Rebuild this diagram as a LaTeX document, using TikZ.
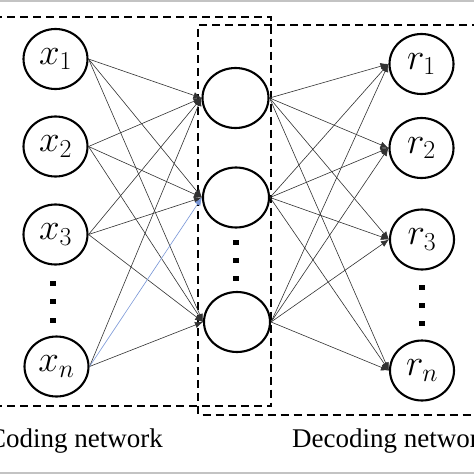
\RequirePackage{fix-cm}
\documentclass[tikz,border=0pt]{standalone}
\usepackage{fontspec}
\setmainfont{Liberation Serif}
\usetikzlibrary{shapes.geometric,arrows.meta}
\definecolor{edgegray}{RGB}{50,50,50}
\definecolor{edgeblue}{RGB}{120,150,215}
\definecolor{stripgray}{RGB}{195,195,195}
\tikzset{
  neuron/.style={ellipse, draw=black, line width=2.1pt, minimum width=64pt, minimum height=60pt, inner sep=0pt, fill=white},
  conn/.style={draw=edgegray, line width=0.6pt, -{Latex[length=8pt,width=6.5pt]}},
  boxline/.style={draw=black, line width=2pt, dash pattern=on 8pt off 5pt},
  dotsq/.style={fill=black, minimum width=5.5pt, minimum height=5pt, inner sep=0pt},
  lbl/.style={font=\fontsize{27}{30}\selectfont, inner sep=0pt},
  mathlbl/.style={font=\fontsize{37}{40}\selectfont}
}
\begin{document}
\begin{tikzpicture}[x=1pt,y=-1pt]
\useasboundingbox (0,0) rectangle (474,474);
\fill[white] (0,0) rectangle (474,474);
\fill[stripgray] (0,0) rectangle (474,2.2);
\fill[stripgray] (0,471.5) rectangle (474,474);
% dashed boxes
\draw[boxline] (-6,16.5) -- (271,16.5) -- (271,406) -- (-6,406);
\draw[boxline] (480,25) -- (198,25) -- (198,414.5) -- (480,414.5);
% input nodes
\node[neuron, mathlbl] (x1) at (55.5,59) {$x_1$};
\node[neuron, mathlbl] (x2) at (55.5,146.5) {$x_2$};
\node[neuron, mathlbl] (x3) at (55.5,234.5) {$x_3$};
\node[neuron, mathlbl] (xn) at (56.5,366.5) {$x_n$};
% hidden nodes
\node[neuron, minimum width=66pt] (h1) at (235.5,98) {};
\node[neuron, minimum width=66pt] (h2) at (236,197.5) {};
\node[neuron, minimum width=66pt] (h3) at (237,322) {};
% output nodes
\node[neuron, mathlbl] (r1) at (421.5,64) {$r_1$};
\node[neuron, mathlbl] (r2) at (421.5,148) {$r_2$};
\node[neuron, mathlbl] (r3) at (422,239.5) {$r_3$};
\node[neuron, mathlbl] (rn) at (422,370.5) {$r_n$};
% dots
\node[dotsq] (dx1) at (53,283) {};
\node[dotsq] (dx2) at (53,301) {};
\node[dotsq] (dx3) at (53,320) {};
\node[dotsq] (dh1) at (236,242) {};
\node[dotsq] (dh2) at (236,260) {};
\node[dotsq] (dh3) at (236,278) {};
\node[dotsq] (dr1) at (422,287) {};
\node[dotsq] (dr2) at (422,305) {};
\node[dotsq] (dr3) at (422,323) {};
% connections input -> hidden
\foreach \i in {x1,x2,x3} {
  \foreach \h in {h1,h2,h3} {
    \draw[conn] (\i.east) -- (\h.west);
  }
}
\draw[conn] (xn.east) -- (h1.west);
\draw[conn] (xn.east) -- (h3.west);
\draw[conn, draw=edgeblue, -{Latex[length=8pt,width=6.5pt,fill=edgeblue]}] (xn.east) -- (h2.west);
% connections hidden -> output
\foreach \h in {h1,h2,h3} {
  \foreach \o in {r1,r2,r3,rn} {
    \draw[conn] (\h.east) -- (\o.west);
  }
}
% labels
\node[lbl, anchor=base east] (lc) at (163,447.5) {Coding network};
\node[lbl, anchor=base west] (ld) at (292,447.5) {Decoding network};
\end{tikzpicture}
\end{document}
